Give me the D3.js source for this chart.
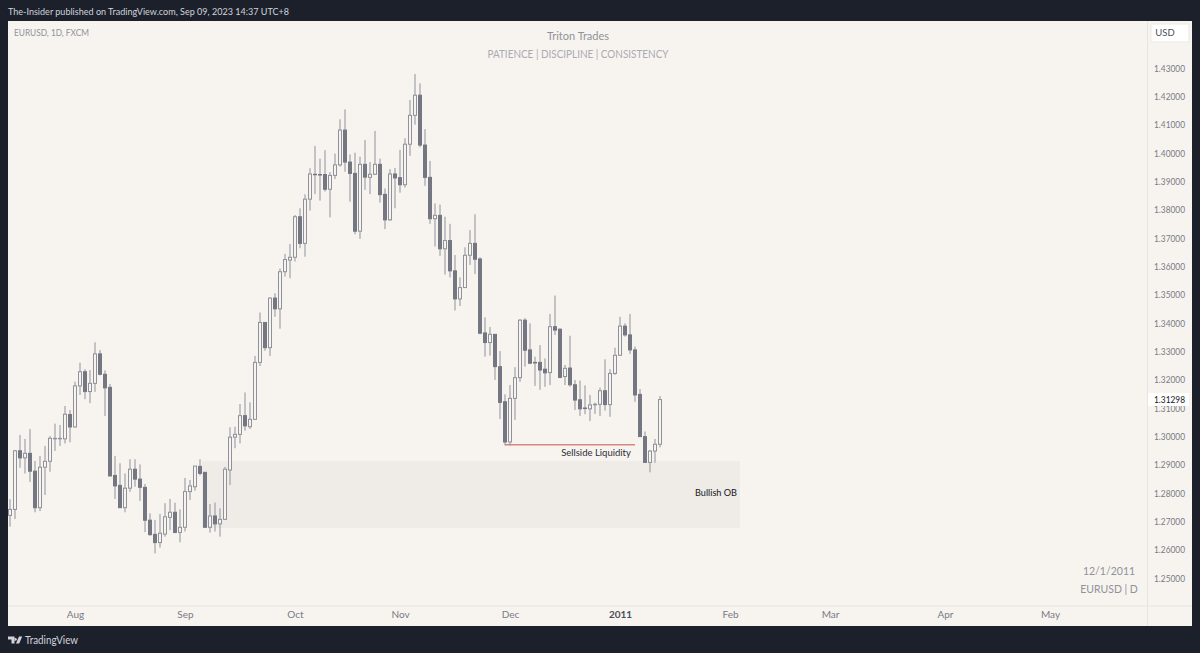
<!DOCTYPE html>
<html>
<head>
<meta charset="utf-8">
<script src="https://cdn.jsdelivr.net/npm/d3@7"></script>
<style>
  html, body { margin: 0; padding: 0; background: #1c202b; }
  svg { display: block; }
  text { font-family: Lato, sans-serif; }
</style>
</head>
<body>
<svg id="chart"></svg>
<script>
// EURUSD daily bars
const opens = [1.2721,1.2742,1.2949,1.2924,1.2940,1.2877,1.2748,1.2891,1.2912,1.2992,1.2992,1.2991,1.3077,1.3033,1.3178,1.3228,1.3158,1.3187,1.3291,1.3219,
  1.3173,1.2862,1.2827,1.2748,1.2817,1.2884,1.2849,1.2820,1.2704,1.2654,1.2625,1.2655,1.2714,1.2732,1.2661,1.2679,1.2805,1.2822,1.2894,1.2873,
  1.2679,1.2719,1.2691,1.2707,1.2881,1.2997,1.3007,1.3073,1.3034,1.3060,1.3261,1.3402,1.3313,1.3488,1.3450,1.3581,1.3622,1.3632,1.3775,1.3681,
  1.3837,1.3925,1.3924,1.3924,1.3872,1.3921,1.3958,1.4081,1.3968,1.3928,1.3724,1.3960,1.3914,1.3925,1.3960,1.3854,1.3764,1.3926,1.3913,1.3888,
  1.4031,1.4133,1.4204,1.4028,1.3914,1.3768,1.3780,1.3662,1.3691,1.3584,1.3485,1.3525,1.3639,1.3681,1.3626,1.3365,1.3331,1.3360,1.3246,1.3122,
  1.2980,1.3134,1.3207,1.3410,1.3305,1.3261,1.3261,1.3237,1.3225,1.3387,1.3378,1.3211,1.3241,1.3182,1.3129,1.3100,1.3097,1.3112,1.3113,1.3161,
  1.3112,1.3222,1.3286,1.3389,1.3358,1.3305,1.3148,1.2999,1.2908,1.2948,1.2972];
const highs = [1.2778,1.2952,1.3005,1.2991,1.3026,1.2913,1.2931,1.2966,1.3001,1.3045,1.3040,1.3107,1.3093,1.3193,1.3260,1.3237,1.3234,1.3332,1.3305,1.3233,
  1.3185,1.2931,1.2905,1.2869,1.2919,1.2919,1.2901,1.2832,1.2728,1.2705,1.2726,1.2764,1.2779,1.2766,1.2742,1.2853,1.2846,1.2895,1.2919,1.2873,
  1.2761,1.2766,1.2746,1.2892,1.3032,1.3034,1.3114,1.3155,1.3120,1.3284,1.3437,1.3402,1.3490,1.3505,1.3592,1.3644,1.3679,1.3781,1.3805,1.3854,
  1.3946,1.4025,1.3980,1.4010,1.3932,1.3998,1.4119,1.4154,1.3995,1.4001,1.3987,1.4046,1.3968,1.4078,1.3980,1.3875,1.3943,1.3947,1.4011,1.4052,
  1.4187,1.4279,1.4246,1.4084,1.3972,1.3822,1.3818,1.3775,1.3750,1.3640,1.3561,1.3667,1.3728,1.3784,1.3632,1.3420,1.3386,1.3360,1.3301,1.3148,
  1.3181,1.3244,1.3414,1.3417,1.3399,1.3281,1.3322,1.3275,1.3432,1.3497,1.3381,1.3252,1.3355,1.3199,1.3197,1.3180,1.3146,1.3119,1.3172,1.3272,
  1.3237,1.3313,1.3422,1.3399,1.3432,1.3317,1.3167,1.3017,1.2952,1.2991,1.3142];
const lows = [1.2681,1.2708,1.2889,1.2869,1.2839,1.2732,1.2736,1.2793,1.2875,1.2949,1.2966,1.2975,1.2979,1.3031,1.3146,1.3131,1.3117,1.3157,1.3215,1.3072,
  1.2860,1.2779,1.2748,1.2732,1.2804,1.2822,1.2772,1.2662,1.2649,1.2587,1.2607,1.2646,1.2669,1.2658,1.2626,1.2664,1.2775,1.2808,1.2862,1.2678,
  1.2660,1.2664,1.2646,1.2705,1.2828,1.2958,1.2975,1.3020,1.3026,1.3058,1.3248,1.3302,1.3284,1.3422,1.3380,1.3564,1.3558,1.3617,1.3664,1.3634,
  1.3797,1.3855,1.3832,1.3864,1.3773,1.3908,1.3952,1.3934,1.3828,1.3713,1.3697,1.3870,1.3855,1.3923,1.3825,1.3731,1.3761,1.3805,1.3860,1.3878,
  1.3990,1.4100,1.4020,1.3884,1.3750,1.3670,1.3637,1.3571,1.3561,1.3444,1.3460,1.3524,1.3605,1.3573,1.3360,1.3281,1.3285,1.3199,1.3061,1.2968,
  1.2968,1.3058,1.3192,1.3246,1.3255,1.3178,1.3164,1.3175,1.3181,1.3358,1.3205,1.3181,1.3175,1.3093,1.3072,1.3078,1.3054,1.3079,1.3072,1.3091,
  1.3069,1.3217,1.3285,1.3352,1.3291,1.3122,1.2999,1.2907,1.2873,1.2907,1.2961];
const closes = [1.2742,1.2949,1.2924,1.2940,1.2877,1.2748,1.2891,1.2912,1.2993,1.2993,1.2993,1.3078,1.3033,1.3178,1.3228,1.3158,1.3187,1.3291,1.3219,1.3171,
  1.2860,1.2825,1.2748,1.2817,1.2884,1.2849,1.2820,1.2704,1.2653,1.2625,1.2658,1.2716,1.2732,1.2661,1.2679,1.2805,1.2825,1.2895,1.2869,1.2679,
  1.2719,1.2691,1.2707,1.2884,1.2997,1.3007,1.3073,1.3037,1.3060,1.3261,1.3402,1.3313,1.3488,1.3450,1.3581,1.3624,1.3632,1.3775,1.3681,1.3837,
  1.3926,1.3924,1.3923,1.3872,1.3921,1.3958,1.4081,1.3968,1.3928,1.3724,1.3960,1.3915,1.3925,1.3960,1.3853,1.3764,1.3926,1.3912,1.3888,1.4031,
  1.4133,1.4204,1.4028,1.3914,1.3768,1.3780,1.3662,1.3691,1.3584,1.3485,1.3525,1.3639,1.3681,1.3625,1.3364,1.3331,1.3360,1.3246,1.3120,1.2980,
  1.3134,1.3207,1.3410,1.3304,1.3258,1.3259,1.3234,1.3224,1.3387,1.3375,1.3208,1.3240,1.3182,1.3128,1.3097,1.3099,1.3111,1.3113,1.3161,1.3112,
  1.3222,1.3286,1.3389,1.3358,1.3305,1.3146,1.2999,1.2908,1.2948,1.2972,1.31298];

// Month ticks sit on bar numbers, the time scale runs on past the last bar
const monthBars = [13, 35, 57, 78, 100, 122, 144, 164, 187, 208];
const monthLabels = ['Aug', 'Sep', 'Oct', 'Nov', 'Dec', '2011', 'Feb', 'Mar', 'Apr', 'May'];
const priceTicks = [1.25, 1.26, 1.27, 1.28, 1.29, 1.30, 1.31, 1.32, 1.33, 1.34, 1.35, 1.36, 1.37, 1.38, 1.39, 1.40, 1.41, 1.42, 1.43];
const lastPrice = 1.31298;

// Drawn objects on the chart
const orderBlock = { barFrom: 38.4, barTo: 146, top: 1.2913, bottom: 1.2676 };
const liquidityLine = { barFrom: 99, barTo: 125, price: 1.2970 };

const COLORS = {
  frame: '#1c202b',
  pane: '#f7f4ef',
  divider: '#e6e4df',
  wick: '#8f919b',
  bodyDown: '#747782',
  label: '#787b86',
  block: '#efebe7'
};

const config = {
  width: 1200,
  height: 653,
  pane: { left: 8, top: 21, right: 1192, bottom: 626 },
  axisX: 1147.5,
  axisY: 606,
  priceLabelWidth: 31
};

const svg = d3.select('#chart')
  .attr('width', config.width)
  .attr('height', config.height);

const bars = d3.range(opens.length).map(i => ({
  i: i, open: opens[i], high: highs[i], low: lows[i], close: closes[i]
}));

const xScale = d3.scaleLinear().domain([0, 130]).range([10, 660]);
const yScale = d3.scaleLinear().domain([1.25, 1.43]).range([578, 68]);

// Frame and pane
svg.append('rect')
  .attr('width', config.width)
  .attr('height', config.height)
  .attr('fill', COLORS.frame);

svg.append('rect')
  .attr('x', config.pane.left)
  .attr('y', config.pane.top)
  .attr('width', config.pane.right - config.pane.left)
  .attr('height', config.pane.bottom - config.pane.top)
  .attr('fill', COLORS.pane);

svg.append('line')
  .attr('x1', config.axisX).attr('x2', config.axisX)
  .attr('y1', config.pane.top).attr('y2', config.pane.bottom)
  .attr('stroke', COLORS.divider);

svg.append('line')
  .attr('x1', config.pane.left).attr('x2', config.pane.right)
  .attr('y1', config.axisY).attr('y2', config.axisY)
  .attr('stroke', COLORS.divider);

// Order block sits behind the candles
svg.append('rect')
  .attr('x', xScale(orderBlock.barFrom))
  .attr('y', yScale(orderBlock.top))
  .attr('width', xScale(orderBlock.barTo) - xScale(orderBlock.barFrom))
  .attr('height', yScale(orderBlock.bottom) - yScale(orderBlock.top))
  .attr('fill', COLORS.block);

svg.append('line')
  .attr('x1', xScale(liquidityLine.barFrom))
  .attr('x2', xScale(liquidityLine.barTo))
  .attr('y1', yScale(liquidityLine.price))
  .attr('y2', yScale(liquidityLine.price))
  .attr('stroke', '#c9504c')
  .attr('stroke-width', 1);

// Candles
const candles = svg.append('g')
  .attr('clip-path', 'url(#pane-clip)');

svg.append('defs').append('clipPath')
  .attr('id', 'pane-clip')
  .append('rect')
  .attr('x', config.pane.left)
  .attr('y', config.pane.top)
  .attr('width', config.axisX - config.pane.left)
  .attr('height', config.axisY - config.pane.top);

candles.selectAll('.wick')
  .data(bars)
  .join('line')
  .attr('class', 'wick')
  .attr('x1', d => xScale(d.i))
  .attr('x2', d => xScale(d.i))
  .attr('y1', d => yScale(d.high))
  .attr('y2', d => yScale(d.low))
  .attr('stroke', COLORS.wick)
  .attr('stroke-width', 1);

candles.selectAll('.body')
  .data(bars)
  .join('rect')
  .attr('class', 'body')
  .attr('x', d => xScale(d.i) - 1.5)
  .attr('width', 3)
  .attr('y', d => yScale(Math.max(d.open, d.close)))
  .attr('height', d => Math.max(0.5, Math.abs(yScale(d.open) - yScale(d.close))))
  .attr('fill', d => d.close >= d.open ? COLORS.pane : COLORS.bodyDown)
  .attr('stroke', d => d.close >= d.open ? COLORS.wick : COLORS.bodyDown)
  .attr('stroke-width', 1);

// Axes
const xAxis = d3.axisBottom(xScale)
  .tickValues(monthBars)
  .tickFormat((d, i) => monthLabels[i])
  .tickSize(0)
  .tickPadding(0);

const yAxis = d3.axisRight(yScale)
  .tickValues(priceTicks)
  .tickFormat(d3.format('.5f'))
  .tickSize(0)
  .tickPadding(0);

const xAxisG = svg.append('g')
  .attr('transform', 'translate(0,611)')
  .call(xAxis);

const yAxisG = svg.append('g')
  .attr('transform', 'translate(1154,0)')
  .call(yAxis);

xAxisG.select('.domain').remove();
yAxisG.select('.domain').remove();

xAxisG.selectAll('text')
  .style('font-family', 'Lato, sans-serif')
  .style('font-size', '10px')
  .style('font-weight', (d, i) => monthLabels[i] === '2011' ? 700 : 400)
  .attr('fill', (d, i) => monthLabels[i] === '2011' ? '#4a4e59' : COLORS.label);

// Lato digits run wider than the original font, so squeeze them to fit
yAxisG.selectAll('text')
  .style('font-family', 'Lato, sans-serif')
  .attr('fill', COLORS.label)
  .style('font-size', '10px')
  .attr('textLength', config.priceLabelWidth)
  .attr('lengthAdjust', 'spacingAndGlyphs');

// Last price tag
svg.append('rect')
  .attr('x', 1148).attr('width', 41)
  .attr('y', yScale(lastPrice) - 6.5).attr('height', 13)
  .attr('fill', '#ffffff');

svg.append('text')
  .attr('x', 1154)
  .attr('y', yScale(lastPrice))
  .attr('dy', '0.35em')
  .attr('fill', '#131722')
  .attr('textLength', config.priceLabelWidth)
  .attr('lengthAdjust', 'spacingAndGlyphs')
  .style('font-size', '10px')
  .text(d3.format('.5f')(lastPrice));

// Currency button
svg.append('rect')
  .attr('x', 1151).attr('y', 24)
  .attr('width', 38).attr('height', 18)
  .attr('fill', '#ffffff')
  .attr('stroke', '#ebe9e6');

const addText = (x, y, label, size, color, anchor, fitWidth) => {
  const t = svg.append('text')
    .attr('x', x)
    .attr('y', y)
    .attr('dy', '0.35em')
    .attr('fill', color)
    .attr('text-anchor', anchor || 'start')
    .style('font-size', size + 'px')
    .text(label);
  if (fitWidth) {
    t.attr('textLength', fitWidth).attr('lengthAdjust', 'spacingAndGlyphs');
  }
  return t;
};

addText(1165, 33, 'USD', 9.5, '#4a4e59', 'middle');

// Header, legend and watermark texts
addText(8, 11, 'The-Insider published on TradingView.com, Sep 09, 2023 14:37 UTC+8', 10, '#d1d4dc', 'start', 281);
addText(14, 32, 'EURUSD, 1D, FXCM', 10, '#8f929b', 'start', 75);
addText(578, 36, 'Triton Trades', 11, '#8f929b', 'middle');
addText(578, 54, 'PATIENCE | DISCIPLINE | CONSISTENCY', 10.5, '#a9abb2', 'middle', 181);
addText(1109, 571, '12/1/2011', 10.5, '#8f929b', 'middle');
addText(1109, 589, 'EURUSD | D', 10.5, '#8f929b', 'middle');
addText(596, 453, 'Sellside Liquidity', 9.5, '#2a2e39', 'middle');
addText(737, 493, 'Bullish OB', 9.5, '#131722', 'end', 42);

// TradingView mark in the footer
svg.append('path')
  .attr('d', 'M8 636.5h6.5v7h-3v-4h-3.5z M15.5 638a1.4 1.4 0 1 0 .01 0z M19 636.5h3.2l-3 7h-3.2z')
  .attr('fill', '#d1d4dc');

addText(25, 640, 'TradingView', 10.5, '#d1d4dc', 'start', 53);
</script>
</body>
</html>
